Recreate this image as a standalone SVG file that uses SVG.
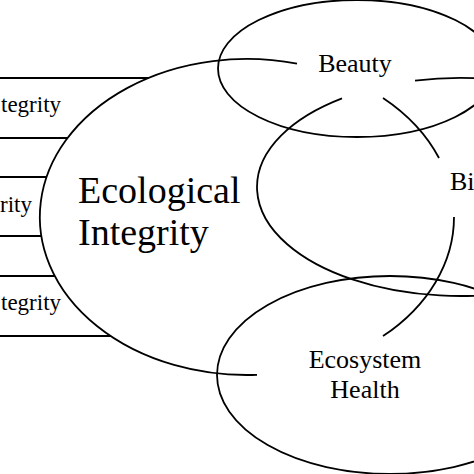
<svg xmlns="http://www.w3.org/2000/svg" width="474" height="474" viewBox="0 0 474 474">
  <style>
    .ln { fill: none; stroke: #000; stroke-width: 1.8; }
    .t { font-family: "Liberation Serif", "Times New Roman", serif; fill: #000; }
    .s { font-size: 23px; }
    .m { font-size: 26px; text-anchor: middle; }
    .b { font-size: 38px; }
  </style>
  <rect width="474" height="474" fill="#fff"/>

  <g id="box-1">
    <line class="ln" x1="0" y1="78" x2="148.6" y2="78"/>
    <line class="ln" x1="0" y1="138" x2="67.7" y2="138"/>
    <text class="t s" x="1" y="112">tegrity</text>
  </g>
  <g id="box-2">
    <line class="ln" x1="0" y1="177" x2="46.7" y2="177"/>
    <line class="ln" x1="0" y1="236" x2="41.5" y2="236"/>
    <text class="t s" x="0" y="212">rity</text>
  </g>
  <g id="box-3">
    <line class="ln" x1="0" y1="276" x2="55" y2="276"/>
    <line class="ln" x1="0" y1="336" x2="110.8" y2="336"/>
    <text class="t s" x="1" y="310">tegrity</text>
  </g>

  <g id="ecological-integrity">
    <path class="ln" d="M297,63.7 A207,158 0 1,0 257,374.8"/>
    <path class="ln" d="M383,97.9 A207,158 0 0,1 439,158"/>
    <path class="ln" d="M454,217 A207,158 0 0,1 383,336.1"/>
    <text class="t b" x="78" y="203">Ecological</text>
    <text class="t b" x="78" y="245">Integrity</text>
  </g>

  <g id="beauty">
    <ellipse class="ln" cx="357" cy="68.5" rx="139" ry="68.5"/>
    <text class="t m" x="355" y="72">Beauty</text>
  </g>

  <g id="biodiversity">
    <path class="ln" d="M415,80.7 A203,109 0 1,1 342,98.3"/>
    <text class="t" style="font-size:26px" x="450" y="190">Bi</text>
  </g>

  <g id="ecosystem-health">
    <ellipse class="ln" cx="390" cy="375" rx="173" ry="99"/>
    <text class="t m" x="365" y="368">Ecosystem</text>
    <text class="t m" x="365" y="398">Health</text>
  </g>

  <g id="connectors"/>
</svg>
